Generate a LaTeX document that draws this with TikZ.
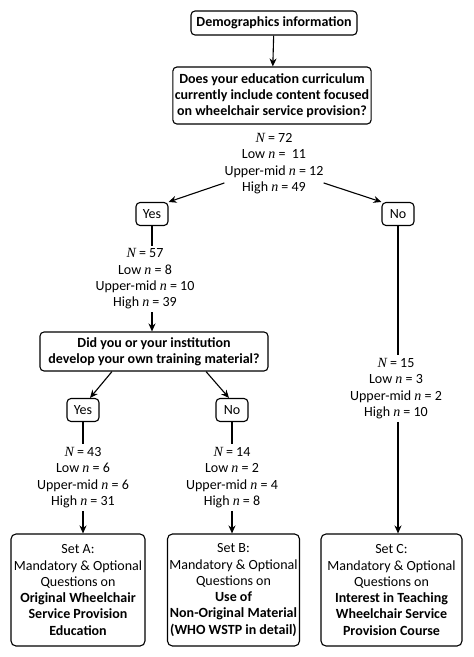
\documentclass[tikz,border=0pt]{standalone}
\usepackage{fontspec}
\setmainfont{Carlito}
\newfontfamily\varfont{Liberation Serif}
\usetikzlibrary{arrows.meta,positioning}
\newcommand{\bigN}{{\varfont\itshape N}}
\newcommand{\smalln}{{\varfont\itshape n}}

\begin{document}
\begin{tikzpicture}[
    x=1pt, y=-1pt,
    every node/.style={align=center, font=\fontsize{14}{16.3}\selectfont},
    question/.style={rectangle, rounded corners=4pt, draw, line width=1.1pt, fill=white, font=\fontsize{14}{16.3}\selectfont\bfseries, inner sep=2pt},
    answer/.style={rectangle, rounded corners=4pt, draw, line width=1.1pt, minimum width=32pt, minimum height=23pt, inner sep=2pt},
    setbox/.style={rectangle, rounded corners=5pt, draw, line width=1.1pt, minimum height=112pt, inner sep=2pt},
    stats/.style={inner xsep=0pt, inner ysep=3pt},
    arrow/.style={line width=1.1pt,-{Stealth[length=8pt,width=7pt]}},
    link/.style={line width=1.1pt}
]
\useasboundingbox (0,0) rectangle (474,657);

% Questions
\node[question, minimum width=166pt, minimum height=24pt] (demo) at (274,23) {Demographics information};
\node[question, minimum width=198pt, minimum height=57pt] (curric) at (272,95.5) {Does your education curriculum\\currently include content focused\\on wheelchair service provision?};
\node[stats] (all) at (274,163.5) {\bigN{} = 72\\Low \smalln{} = \ 11\\Upper-mid \smalln{} = 12\\High \smalln{} = 49};

% First split
\node[answer] (yes) at (152,214) {Yes};
\node[answer] (no) at (398,214) {No};
\node[stats] (yesstats) at (145,279) {\bigN{} = 57\\Low \smalln{} = 8\\Upper-mid \smalln{} = 10\\High \smalln{} = 39};
\node[stats] (nostats) at (396,388.5) {\bigN{} = 15\\Low \smalln{} = 3\\Upper-mid \smalln{} = 2\\High \smalln{} = 10};
\node[question, minimum width=228pt, minimum height=39pt] (develop) at (154,351.5) {Did you or your institution\\develop your own training material?};

% Second split
\node[answer] (own) at (83,410) {Yes};
\node[answer] (notown) at (232,410) {No};
\node[stats] (ownstats) at (83,477.5) {\bigN{} = 43\\Low \smalln{} = 6\\Upper-mid \smalln{} = 6\\High \smalln{} = 31};
\node[stats] (notownstats) at (232,477.5) {\bigN{} = 14\\Low \smalln{} = 2\\Upper-mid \smalln{} = 4\\High \smalln{} = 8};

% Question sets
\node[setbox, minimum width=134pt] (setA) at (78,590) {Set A:\\Mandatory \& Optional\\Questions on\\\textbf{Original Wheelchair}\\\textbf{Service Provision}\\\textbf{Education}};
\node[setbox, minimum width=131pt] (setB) at (233.5,590) {Set B:\\Mandatory \& Optional\\Questions on\\\textbf{Use of}\\\textbf{Non-Original Material}\\\textbf{(WHO WSTP in detail)}};
\node[setbox, minimum width=141pt] (setC) at (391.5,590) {Set C:\\Mandatory \& Optional\\Questions on\\\textbf{Interest in Teaching}\\\textbf{Wheelchair Service}\\\textbf{Provision Course}};

% Connections
\draw[arrow] (demo) -- (curric);
\draw[arrow] ([yshift=14pt]all.south west) -- (yes.north east);
\draw[arrow] ([yshift=14pt]all.south east) -- (no.north west);
\draw[link] (yes.south) -- (yes.south |- yesstats.north);
\draw[arrow] (yes.south |- yesstats.south) -- (yes.south |- develop.north);
\draw[link] (no.south) -- (no.south |- nostats.north);
\draw[arrow] (no.south |- nostats.south) -- (no.south |- setC.north);
\draw[arrow] ([xshift=-42pt]develop.south) -- ([xshift=7pt]own.north);
\draw[arrow] ([xshift=52pt]develop.south) -- ([xshift=-3pt]notown.north);
\draw[link] (own.south) -- (own.south |- ownstats.north);
\draw[arrow] (own.south |- ownstats.south) -- (own.south |- setA.north);
\draw[link] (notown.south) -- (notown.south |- notownstats.north);
\draw[arrow] (notown.south |- notownstats.south) -- (notown.south |- setB.north);

\end{tikzpicture}
\end{document}
